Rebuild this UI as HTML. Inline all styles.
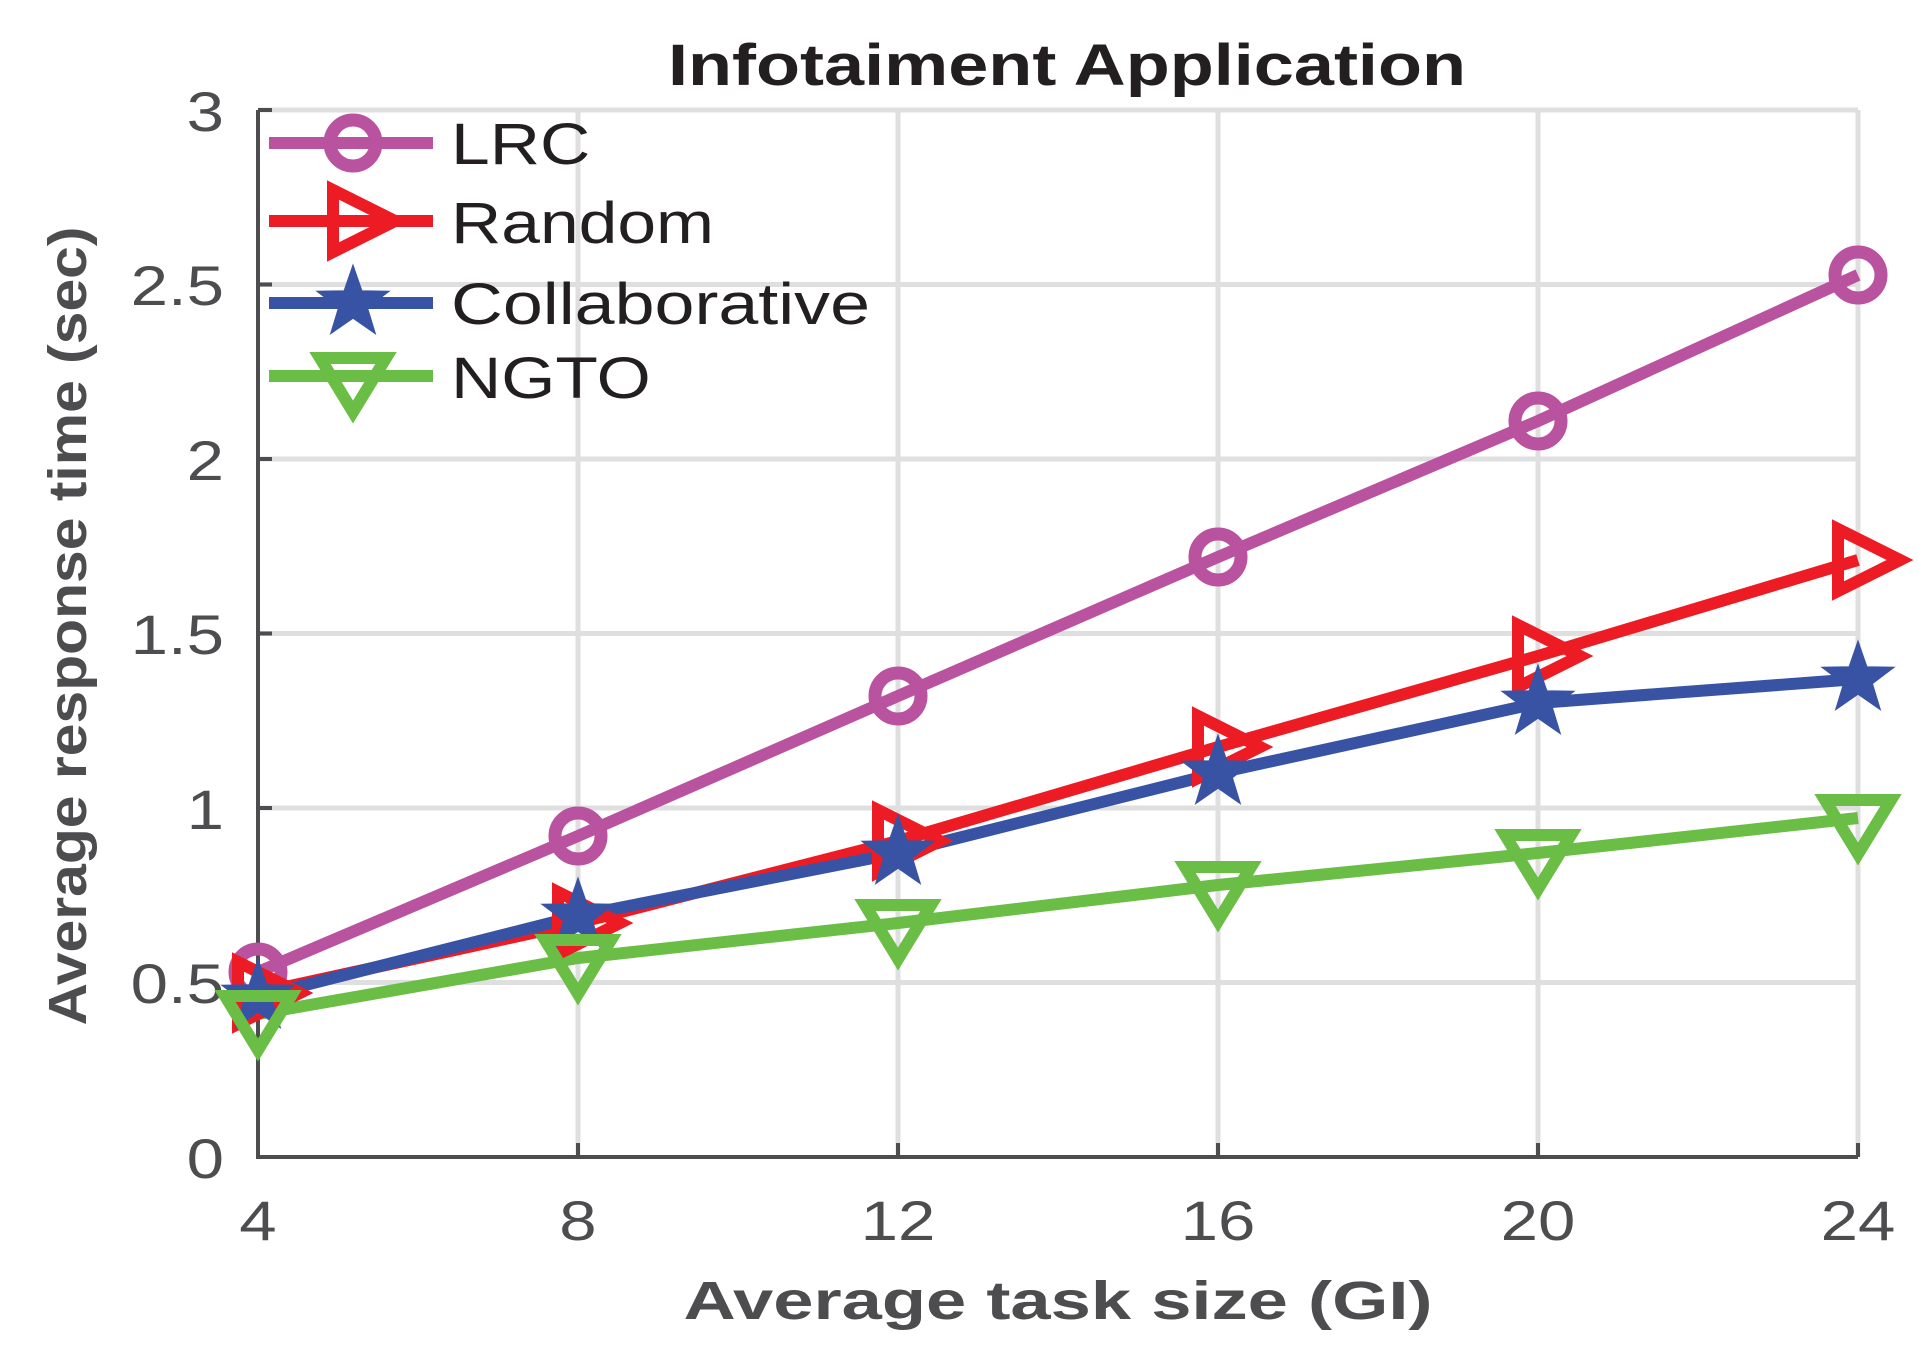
<!DOCTYPE html>
<html><head><meta charset="utf-8"><style>
html,body{margin:0;padding:0;background:#fff;}
svg{display:block;}
</style></head><body>
<svg width="1919" height="1364" viewBox="0 0 1919 1364" xmlns="http://www.w3.org/2000/svg">
<defs>
<g id="circ"><circle r="23" fill="none" stroke="#b9529f" stroke-width="13"/></g>
<g id="tri"><polygon points="-20,-31 42,0 -20,31" fill="none" stroke="#ed1c24" stroke-width="12" stroke-linejoin="miter"/></g>
<g id="star"><polygon points="0,-35 8.2,-11.3 33.3,-10.8 13.3,4.3 20.6,28.3 0,14 -20.6,28.3 -13.3,4.3 -33.3,-10.8 -8.2,-11.3" fill="#3953a4" stroke="#3953a4" stroke-width="3"/></g>
<g id="dtri"><polygon points="-33,-18 33,-18 0,36" fill="none" stroke="#6abd45" stroke-width="12"/></g>
</defs>
<g stroke="#dfdfe0" stroke-width="5">
<line x1="258" y1="110" x2="1858" y2="110"/>
<line x1="258" y1="284.5" x2="1858" y2="284.5"/>
<line x1="258" y1="459" x2="1858" y2="459"/>
<line x1="258" y1="633.5" x2="1858" y2="633.5"/>
<line x1="258" y1="808" x2="1858" y2="808"/>
<line x1="258" y1="982.5" x2="1858" y2="982.5"/>
<line x1="578" y1="110" x2="578" y2="1157"/>
<line x1="898" y1="110" x2="898" y2="1157"/>
<line x1="1218" y1="110" x2="1218" y2="1157"/>
<line x1="1538" y1="110" x2="1538" y2="1157"/>
<line x1="1858" y1="110" x2="1858" y2="1157"/>
</g>
<g stroke="#4d4d4f" stroke-width="4" fill="none">
<polyline points="258,110 258,1157 1858,1157"/>
<line x1="258" y1="110" x2="272" y2="110"/>
<line x1="258" y1="284.5" x2="272" y2="284.5"/>
<line x1="258" y1="459" x2="272" y2="459"/>
<line x1="258" y1="633.5" x2="272" y2="633.5"/>
<line x1="258" y1="808" x2="272" y2="808"/>
<line x1="258" y1="982.5" x2="272" y2="982.5"/>
<line x1="578" y1="1157" x2="578" y2="1143"/>
<line x1="898" y1="1157" x2="898" y2="1143"/>
<line x1="1218" y1="1157" x2="1218" y2="1143"/>
<line x1="1538" y1="1157" x2="1538" y2="1143"/>
<line x1="1858" y1="1157" x2="1858" y2="1143"/>
</g>
<g font-family="Liberation Sans, sans-serif" font-size="56" fill="#4d4d4f">
<g text-anchor="end">
<text transform="translate(224,131) scale(1.2,1)">3</text>
<text transform="translate(224,305) scale(1.2,1)">2.5</text>
<text transform="translate(224,480) scale(1.2,1)">2</text>
<text transform="translate(224,654) scale(1.2,1)">1.5</text>
<text transform="translate(224,829) scale(1.2,1)">1</text>
<text transform="translate(224,1003) scale(1.2,1)">0.5</text>
<text transform="translate(224,1178) scale(1.2,1)">0</text>
</g>
<g text-anchor="middle">
<text transform="translate(258,1240) scale(1.2,1)">4</text>
<text transform="translate(578,1240) scale(1.2,1)">8</text>
<text transform="translate(898,1240) scale(1.2,1)">12</text>
<text transform="translate(1218,1240) scale(1.2,1)">16</text>
<text transform="translate(1538,1240) scale(1.2,1)">20</text>
<text transform="translate(1858,1240) scale(1.2,1)">24</text>
</g>
</g>
<text x="1058" y="1319" text-anchor="middle" font-family="Liberation Sans, sans-serif" font-weight="bold" font-size="54" fill="#4d4d4f" textLength="749" lengthAdjust="spacingAndGlyphs">Average task size (GI)</text>
<text transform="translate(86,626) rotate(-90)" text-anchor="middle" font-family="Liberation Sans, sans-serif" font-weight="bold" font-size="54" fill="#4d4d4f" textLength="799" lengthAdjust="spacingAndGlyphs">Average response time (sec)</text>
<text x="1067" y="85" text-anchor="middle" font-family="Liberation Sans, sans-serif" font-weight="bold" font-size="58" fill="#231f20" textLength="798" lengthAdjust="spacingAndGlyphs">Infotaiment Application</text>
<g fill="none" stroke-width="12" stroke-linejoin="round">
<polyline stroke="#b9529f" points="258,972 578,836 898,696 1218,557 1538,421 1858,275"/>
<polyline stroke="#ed1c24" points="258,993 578,923 898,841 1218,747 1538,656 1858,560"/>
<polyline stroke="#3953a4" points="258,997 578,916 898,853 1218,773 1538,703 1858,679"/>
<polyline stroke="#6abd45" points="258,1014 578,958 898,923 1218,885 1538,853 1858,818"/>
</g>
<use href="#circ" x="258" y="972"/><use href="#circ" x="578" y="836"/><use href="#circ" x="898" y="696"/><use href="#circ" x="1218" y="557"/><use href="#circ" x="1538" y="421"/><use href="#circ" x="1858" y="275"/>
<use href="#tri" x="258" y="993"/><use href="#tri" x="578" y="923"/><use href="#tri" x="898" y="841"/><use href="#tri" x="1218" y="747"/><use href="#tri" x="1538" y="656"/><use href="#tri" x="1858" y="560"/>
<use href="#star" x="258" y="997"/><use href="#star" x="578" y="916"/><use href="#star" x="898" y="853"/><use href="#star" x="1218" y="773"/><use href="#star" x="1538" y="703"/><use href="#star" x="1858" y="679"/>
<use href="#dtri" x="258" y="1014"/><use href="#dtri" x="578" y="958"/><use href="#dtri" x="898" y="923"/><use href="#dtri" x="1218" y="885"/><use href="#dtri" x="1538" y="853"/><use href="#dtri" x="1858" y="818"/>
<g stroke-width="12">
<line x1="269" y1="143" x2="433" y2="143" stroke="#b9529f"/>
<line x1="269" y1="221" x2="433" y2="221" stroke="#ed1c24"/>
<line x1="269" y1="303" x2="433" y2="303" stroke="#3953a4"/>
<line x1="269" y1="376" x2="433" y2="376" stroke="#6abd45"/>
</g>
<use href="#circ" x="353" y="143"/>
<use href="#tri" x="353" y="221"/>
<use href="#star" x="353" y="303"/>
<use href="#dtri" x="353" y="376"/>
<g font-family="Liberation Sans, sans-serif" font-size="58" fill="#231f20">
<text transform="translate(451,164) scale(1.2,1)">LRC</text>
<text transform="translate(451,243) scale(1.2,1)">Random</text>
<text x="451" y="324" textLength="419" lengthAdjust="spacingAndGlyphs">Collaborative</text>
<text transform="translate(451,398) scale(1.2,1)">NGTO</text>
</g>
</svg>
</body></html>
